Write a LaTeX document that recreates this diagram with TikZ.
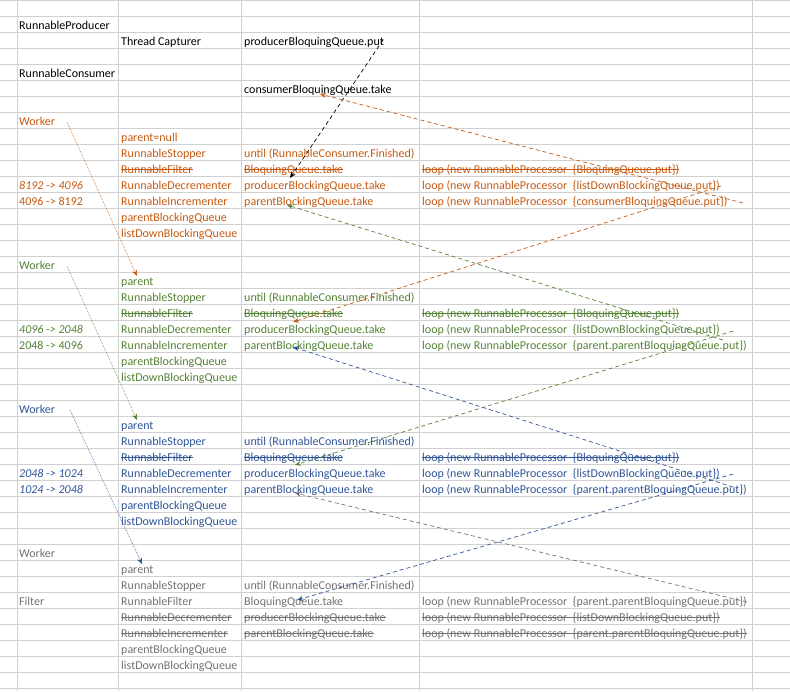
\documentclass[tikz,border=0pt]{standalone}
\usepackage{fontspec}
\setmainfont{Carlito}
\usetikzlibrary{arrows.meta}
\definecolor{wkorange}{HTML}{C55A11}
\definecolor{wkgreen}{HTML}{548235}
\definecolor{wkblue}{HTML}{2F5597}
\definecolor{wkgray}{HTML}{767171}
\definecolor{gridgray}{HTML}{D0D0D0}
\begin{document}
\begin{tikzpicture}[x=1pt,y=-1pt,
  cell/.style={anchor=base west, inner sep=0pt, font=\fontsize{12}{14}\selectfont},
  struck/.style={cell, append after command={([yshift=4pt]\tikzlastnode.base west) edge[line width=0.5pt] ([yshift=4pt]\tikzlastnode.base east)}},
  feed/.style={dash pattern=on 4pt off 3pt, line width=0.7pt, -{Stealth[length=6pt,width=5pt]}},
  link/.style={densely dotted, line width=0.6pt, -{Stealth[length=6pt,width=5pt]}}]
\useasboundingbox (0,0) rectangle (790,691);
\foreach \r in {0,...,43} \draw[gridgray] (0,16*\r) -- (790,16*\r);
\foreach \c in {17,118,241,419,752} \draw[gridgray] (\c,0) -- (\c,691);

\node[cell] (rprod) at (19,29) {RunnableProducer};
\node[cell] (tcap) at (121,45) {Thread Capturer};
\node[cell] (pput) at (244,45) {producerBloquingQueue.put};
\node[cell] (rcons) at (19,77) {RunnableConsumer};
\node[cell] (ctake) at (244,93) {consumerBloquingQueue.take};

\begin{scope}[wkorange]
\node[cell] (wAname) at (19,125) {Worker};
\node[cell] (wAparent) at (121,141) {parent=null};
\node[cell] (wAstop) at (121,157) {RunnableStopper};
\node[cell] (wAuntil) at (244,157) {until (RunnableConsumer.Finished)};
\node[struck] (wAfilter) at (121,173) {RunnableFilter};
\node[struck] (wAftake) at (244,173) {BloquingQueue.take};
\node[struck] (wAfloop) at (422,173) {loop (new RunnableProcessor~~\{BloquingQueue.put\})};
\node[cell] (wAdown) at (19,189) {\itshape 8192 -> 4096};
\node[cell] (wAdec) at (121,189) {RunnableDecrementer};
\node[cell] (wAdtake) at (244,189) {producerBlockingQueue.take};
\node[cell] (wAdloop) at (422,189) {loop (new RunnableProcessor~~\{listDownBlockingQueue.put\})};
\node[cell] (wAup) at (19,205) {4096 -> 8192};
\node[cell] (wAinc) at (121,205) {RunnableIncrementer};
\node[cell] (wAitake) at (244,205) {parentBlockingQueue.take};
\node[cell] (wAiloop) at (422,205) {loop (new RunnableProcessor~~\{consumerBloquingQueue.put\})};
\node[cell] (wApbq) at (121,221) {parentBlockingQueue};
\node[cell] (wAldq) at (121,237) {listDownBlockingQueue};
\end{scope}

\begin{scope}[wkgreen]
\node[cell] (wBname) at (19,269) {Worker};
\node[cell] (wBparent) at (121,285) {parent};
\node[cell] (wBstop) at (121,301) {RunnableStopper};
\node[cell] (wBuntil) at (244,301) {until (RunnableConsumer.Finished)};
\node[struck] (wBfilter) at (121,317) {RunnableFilter};
\node[struck] (wBftake) at (244,317) {BloquingQueue.take};
\node[struck] (wBfloop) at (422,317) {loop (new RunnableProcessor~~\{BloquingQueue.put\})};
\node[cell] (wBdown) at (19,333) {\itshape 4096 -> 2048};
\node[cell] (wBdec) at (121,333) {RunnableDecrementer};
\node[cell] (wBdtake) at (244,333) {producerBlockingQueue.take};
\node[cell] (wBdloop) at (422,333) {loop (new RunnableProcessor~~\{listDownBlockingQueue.put\})};
\node[cell] (wBup) at (19,349) {2048 -> 4096};
\node[cell] (wBinc) at (121,349) {RunnableIncrementer};
\node[cell] (wBitake) at (244,349) {parentBlockingQueue.take};
\node[cell] (wBiloop) at (422,349) {loop (new RunnableProcessor~~\{parent.parentBloquingQueue.put\})};
\node[cell] (wBpbq) at (121,365) {parentBlockingQueue};
\node[cell] (wBldq) at (121,381) {listDownBlockingQueue};
\end{scope}

\begin{scope}[wkblue]
\node[cell] (wCname) at (19,413) {Worker};
\node[cell] (wCparent) at (121,429) {parent};
\node[cell] (wCstop) at (121,445) {RunnableStopper};
\node[cell] (wCuntil) at (244,445) {until (RunnableConsumer.Finished)};
\node[struck] (wCfilter) at (121,461) {RunnableFilter};
\node[struck] (wCftake) at (244,461) {BloquingQueue.take};
\node[struck] (wCfloop) at (422,461) {loop (new RunnableProcessor~~\{BloquingQueue.put\})};
\node[cell] (wCdown) at (19,477) {\itshape 2048 -> 1024};
\node[cell] (wCdec) at (121,477) {RunnableDecrementer};
\node[cell] (wCdtake) at (244,477) {producerBlockingQueue.take};
\node[cell] (wCdloop) at (422,477) {loop (new RunnableProcessor~~\{listDownBlockingQueue.put\})};
\node[cell] (wCup) at (19,493) {\itshape 1024 -> 2048};
\node[cell] (wCinc) at (121,493) {RunnableIncrementer};
\node[cell] (wCitake) at (244,493) {parentBlockingQueue.take};
\node[cell] (wCiloop) at (422,493) {loop (new RunnableProcessor~~\{parent.parentBloquingQueue.put\})};
\node[cell] (wCpbq) at (121,509) {parentBlockingQueue};
\node[cell] (wCldq) at (121,525) {listDownBlockingQueue};
\end{scope}

\begin{scope}[wkgray]
\node[cell] (wDname) at (19,557) {Worker};
\node[cell] (wDparent) at (121,573) {parent};
\node[cell] (wDstop) at (121,589) {RunnableStopper};
\node[cell] (wDuntil) at (244,589) {until (RunnableConsumer.Finished)};
\node[cell] (wDrole) at (19,605) {Filter};
\node[cell] (wDfilter) at (121,605) {RunnableFilter};
\node[cell] (wDftake) at (244,605) {BloquingQueue.take};
\node[cell] (wDfloop) at (422,605) {loop (new RunnableProcessor~~\{parent.parentBloquingQueue.put\})};
\node[struck] (wDdec) at (121,621) {RunnableDecrementer};
\node[struck] (wDdtake) at (244,621) {producerBlockingQueue.take};
\node[struck] (wDdloop) at (422,621) {loop (new RunnableProcessor~~\{listDownBlockingQueue.put\})};
\node[struck] (wDinc) at (121,637) {RunnableIncrementer};
\node[struck] (wDitake) at (244,637) {parentBlockingQueue.take};
\node[struck] (wDiloop) at (422,637) {loop (new RunnableProcessor~~\{parent.parentBloquingQueue.put\})};
\node[cell] (wDpbq) at (121,653) {parentBlockingQueue};
\node[cell] (wDldq) at (121,669) {listDownBlockingQueue};
\end{scope}

\coordinate (putout) at (383,40);
\coordinate (ctakein) at (320,94);
\coordinate (wAfin) at (290,178);
\coordinate (wAiin) at (287,205);
\coordinate (wAdout) at (721,186);
\coordinate (wAiout) at (743,203);
\coordinate (wAlink) at (67,122);
\coordinate (wBpin) at (137,276);
\coordinate (wBfin) at (293,322);
\coordinate (wBiin) at (293,347);
\coordinate (wBdout) at (733,331);
\coordinate (wBiout) at (723,340);
\coordinate (wBlink) at (67,266);
\coordinate (wCpin) at (137,420);
\coordinate (wCfin) at (295,465);
\coordinate (wCiin) at (295,493);
\coordinate (wCdout) at (733,474);
\coordinate (wCiout) at (733,487);
\coordinate (wClink) at (70,410);
\coordinate (wDpin) at (142,564);
\coordinate (wDfin) at (297,600);
\coordinate (wDfout) at (747,602);

\draw[feed, black](putout) -- (wAfin);
\draw[feed, wkorange](wAiout) -- (ctakein);
\draw[feed, wkorange](wAdout) -- (wBfin);
\draw[link, wkorange](wAlink) -- (wBpin);
\draw[feed, wkgreen](wBiout) -- (wAiin);
\draw[feed, wkgreen](wBdout) -- (wCfin);
\draw[link, wkgreen](wBlink) -- (wCpin);
\draw[feed, wkblue](wCiout) -- (wBiin);
\draw[feed, wkblue](wCdout) -- (wDfin);
\draw[link, wkblue](wClink) -- (wDpin);
\draw[feed, wkgray](wDfout) -- (wCiin);
\end{tikzpicture}
\end{document}
